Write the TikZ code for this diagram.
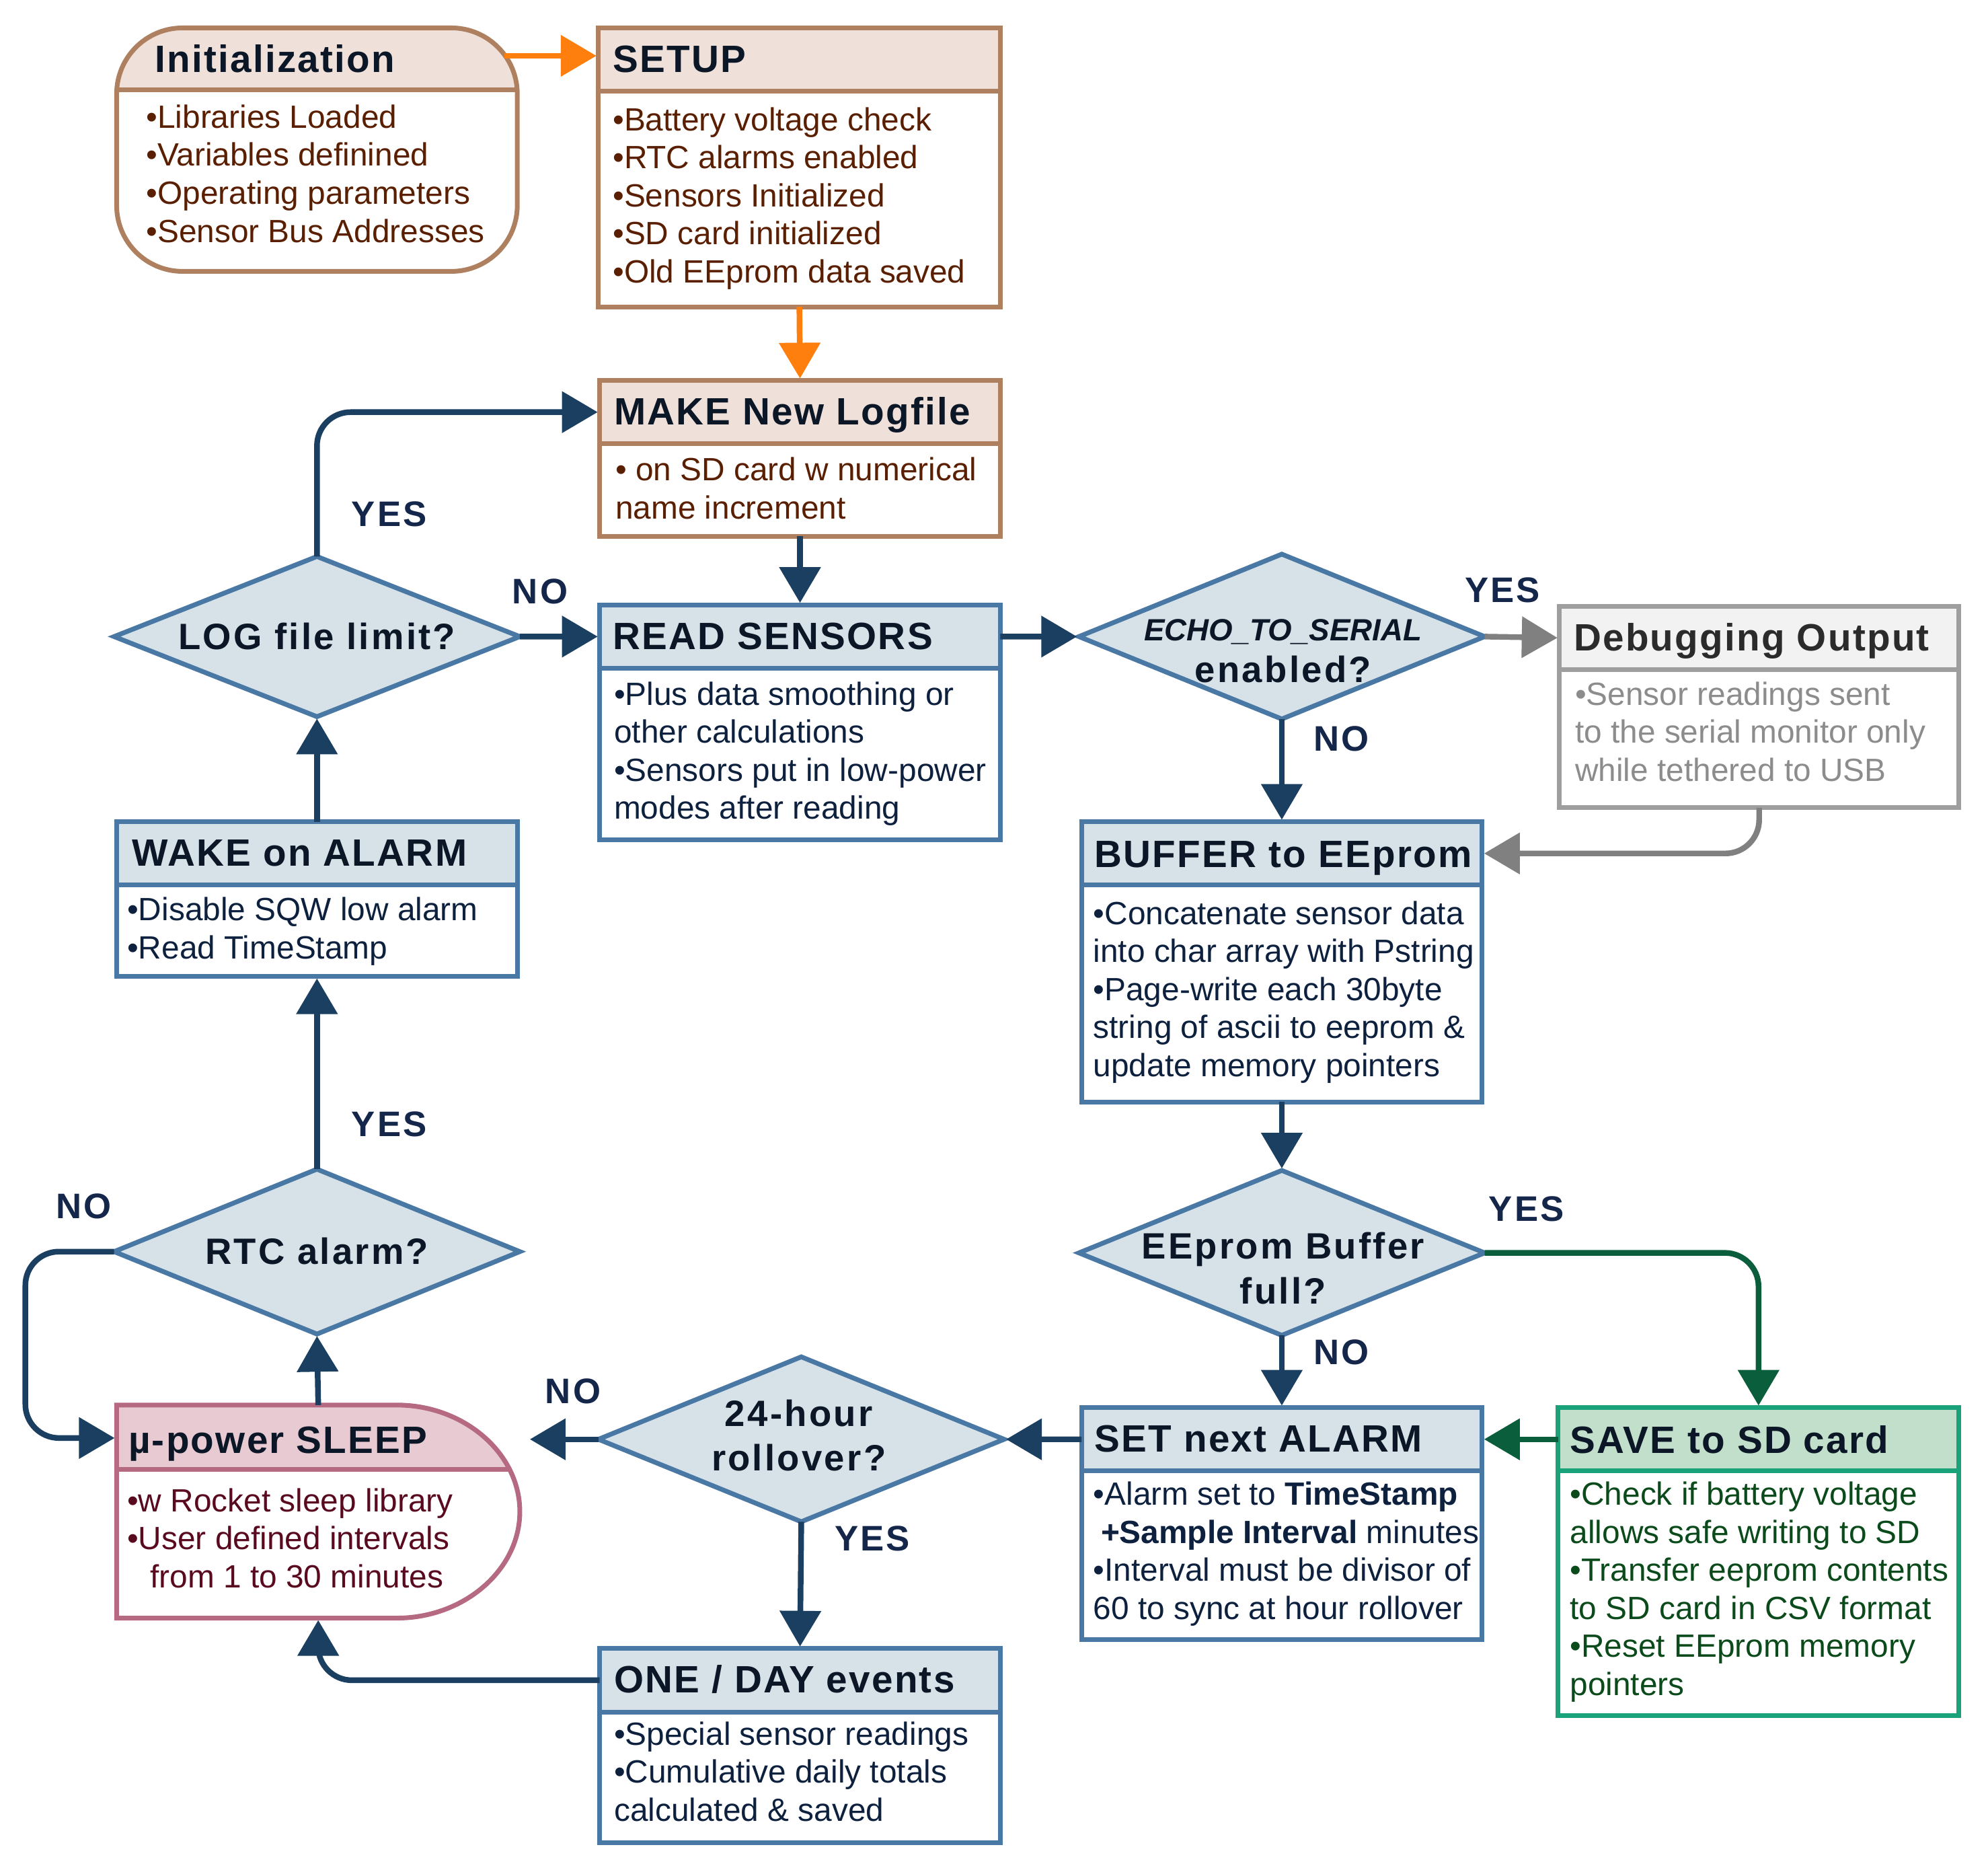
\documentclass[tikz,border=0pt]{standalone}
\usepackage{fontspec}
\setmainfont{Liberation Sans}
\newfontfamily\headsans[LetterSpace=4]{Liberation Sans}
\newfontfamily\labsans[LetterSpace=6]{Liberation Sans}
\usetikzlibrary{calc,fit,shapes.geometric,arrows.meta}
\definecolor{brownedge}{HTML}{AE8060}
\definecolor{brownfill}{HTML}{EFE0D9}
\definecolor{browntext}{HTML}{5A1E00}
\definecolor{blueedge}{HTML}{4978A4}
\definecolor{bluefill}{HTML}{D7E2E8}
\definecolor{bluetext}{HTML}{0D213F}
\definecolor{pinkedge}{HTML}{B56A82}
\definecolor{pinkfill}{HTML}{E8CAD2}
\definecolor{pinktext}{HTML}{5A0A1E}
\definecolor{greenedge}{HTML}{1AA37A}
\definecolor{greenfill}{HTML}{C2DFCB}
\definecolor{greentext}{HTML}{0B4A1A}
\definecolor{greyedge}{HTML}{9E9E9E}
\definecolor{greyfill}{HTML}{F2F2F2}
\definecolor{greytext}{HTML}{8C8C8C}
\definecolor{greyhead}{HTML}{2B2B2B}
\definecolor{headink}{HTML}{0B1626}
\definecolor{labink}{HTML}{14264A}
\definecolor{navy}{HTML}{1B3F61}
\definecolor{flowgreen}{HTML}{0B5E3B}
\definecolor{flowgrey}{HTML}{808080}
\definecolor{floworange}{HTML}{FF7F0E}
\tikzset{
  brownhead/.style={fill=brownfill},
  brownline/.style={draw=brownedge, line width=2pt},
  bluehead/.style={fill=bluefill},
  blueline/.style={draw=blueedge, line width=2pt},
  pinkhead/.style={fill=pinkfill},
  pinkline/.style={draw=pinkedge, line width=2pt},
  greenhead/.style={fill=greenfill},
  greenline/.style={draw=greenedge, line width=2pt},
  greyhead/.style={fill=greyfill},
  greyline/.style={draw=greyedge, line width=2pt},
  headtxt/.style={font=\headsans\bfseries\fontsize{16.1}{19}\selectfont, text=headink, anchor=base west, inner sep=0pt},
  % multi-line: base is the last line
  bodytxt/.style={font=\fontsize{13.6}{16.09}\selectfont, anchor=base west, inner sep=0pt, align=left},
  decide/.style={diamond, draw=blueedge, line width=2pt, fill=bluefill, inner sep=0pt, outer sep=0pt, minimum width=6.03cm, minimum height=2.45cm},
  dtxt/.style={font=\labsans\bfseries\fontsize{15.5}{18.8}\selectfont, text=headink, anchor=base, inner sep=0pt, align=center},
  lab/.style={font=\labsans\bfseries\fontsize{15}{18}\selectfont, text=labink, anchor=base, inner sep=0pt},
  arrowbase/.style={line width=2.4pt, -{Triangle[width=0.6cm,length=0.53cm]}, shorten >=0.03cm},
  flow/.style={arrowbase, draw=navy},
  flowgn/.style={arrowbase, draw=flowgreen},
  flowgr/.style={arrowbase, draw=flowgrey},
  flowor/.style={arrowbase, draw=floworange}
}
% box with a header band: name, colour, corners
\newcommand{\flowbox}[6]{%
  \coordinate (#1-nw) at (#3,#4);
  \coordinate (#1-se) at (#5,#6);
  \node[fit=(#1-nw)(#1-se), inner sep=0pt, outer sep=0pt, fill=white] (#1) {};
  \fill[#2head] (#1.north west) rectangle ($(#1.north east)+(0,50)$);
  \draw[#2line] ($(#1.north west)+(0,50)$) -- ($(#1.north east)+(0,50)$);
  \draw[#2line] (#1.north west) rectangle (#1.south east);
  \coordinate (#1-hw) at ($(#1.north west)+(0,25)$);
  \coordinate (#1-he) at ($(#1.north east)+(0,25)$);
}
\begin{document}
\begin{tikzpicture}[x=0.018852cm, y=-0.018852cm]
  \useasboundingbox[fill=white] (0,0) rectangle (1568,1477.3);

  % Initialization (rounded)
  \coordinate (init-nw) at (92,22);
  \coordinate (init-se) at (408,214);
  \node[fit=(init-nw)(init-se), inner sep=0pt, outer sep=0pt] (init) {};
  \fill[white, rounded corners=0.98cm] (init.north west) rectangle (init.south east);
  \begin{scope}
    \clip[rounded corners=0.98cm] (init.north west) rectangle (init.south east);
    \fill[brownhead] (init.north west) rectangle ($(init.north east)+(0,49)$);
    \draw[brownline] ($(init.north west)+(0,49)$) -- ($(init.north east)+(0,49)$);
  \end{scope}
  \draw[brownline, rounded corners=0.98cm] (init.north west) rectangle (init.south east);

  % u-power SLEEP (round right side)
  \coordinate (sleep-nw) at (92,1108);
  \coordinate (sleep-se) at (410,1276);
  \node[fit=(sleep-nw)(sleep-se), inner sep=0pt, outer sep=0pt] (sleep) {};
  \coordinate (sleep-hw) at ($(sleep.north west)+(0,26)$);
  \path[save path=\sleepoutline] (sleep.north west) -- (313,1108)
    .. controls (366,1108) and (410,1146) .. (410,1192)
    .. controls (410,1238) and (366,1276) .. (313,1276) -- (sleep.south west) -- cycle;
  \fill[white, use path=\sleepoutline];
  \begin{scope}
    \clip[use path=\sleepoutline];
    \fill[pinkhead] (sleep.north west) rectangle ($(sleep.north east)+(0,51)$);
    \draw[pinkline] ($(sleep.north west)+(0,51)$) -- ($(sleep.north east)+(0,51)$);
  \end{scope}
  \draw[pinkline, use path=\sleepoutline];

  % boxes
  \flowbox{setup}{brown}{472}{22}{789}{242}
  \flowbox{make}{brown}{473}{300}{789}{423}
  \flowbox{read}{blue}{473}{477}{789}{662}
  \flowbox{wake}{blue}{92}{648}{408}{770}
  \flowbox{buffer}{blue}{853}{648}{1169}{869}
  \flowbox{set}{blue}{853}{1110}{1169}{1293}
  \flowbox{oneday}{blue}{473}{1300}{789}{1453}
  \flowbox{save}{green}{1229}{1110}{1545}{1353}
  \flowbox{debug}{grey}{1230}{478}{1545}{637}

  % decisions
  \node[decide, minimum height=2.38cm] (log) at (250,502) {};
  \node[decide] (rtc) at (250,987) {};
  \node[decide] (echo) at (1011,502) {};
  \node[decide] (eeprom) at (1011,988) {};
  \node[decide] (day24) at (632,1135) {};

  % headers
  \node[headtxt] (init-t) at (122,57) {Initialization};
  \node[headtxt] (setup-t) at (483,57) {SETUP};
  \node[headtxt] (make-t) at (484,335) {MAKE New Logfile};
  \node[headtxt] (read-t) at (483,512) {READ SENSORS};
  \node[headtxt] (wake-t) at (104,683) {WAKE on ALARM};
  \node[headtxt] (buffer-t) at (863,684) {BUFFER to EEprom};
  \node[headtxt] (set-t) at (863,1145) {SET next ALARM};
  \node[headtxt] (save-t) at (1238,1146) {SAVE to SD card};
  \node[headtxt, text=greyhead] (debug-t) at (1241,513) {Debugging Output};
  \node[headtxt] (oneday-t) at (484,1335) {ONE / DAY events};
  \node[headtxt] (sleep-t) at (101,1146) {µ-power SLEEP};

  % bodies (placed at the baseline of their last line)
  \node[bodytxt, text=browntext] (init-b) at (115,191) {•Libraries Loaded\\•Variables definined\\•Operating parameters\\•Sensor Bus Addresses};
  \node[bodytxt, text=browntext] (setup-b) at (483,223) {•Battery voltage check\\•RTC alarms enabled\\•Sensors Initialized\\•SD card initialized\\•Old EEprom data saved};
  \node[bodytxt, text=browntext] (make-b) at (485,409) {• on SD card w numerical\\name increment};
  \node[bodytxt, text=bluetext] (read-b) at (484,646) {•Plus data smoothing or\\other calculations\\•Sensors put in low-power\\modes after reading};
  \node[bodytxt, text=bluetext] (wake-b) at (100,756) {•Disable SQW low alarm\\•Read TimeStamp};
  \node[bodytxt, text=bluetext] (buffer-b) at (862,849) {•Concatenate sensor data\\into char array with Pstring\\•Page-write each 30byte\\string of ascii to eeprom \&\\update memory pointers};
  \node[bodytxt, text=bluetext] (set-b) at (862,1277) {•Alarm set to \textbf{TimeStamp}\\\hspace*{3.2pt}\textbf{+Sample Interval} minutes\\•Interval must be divisor of\\60 to sync at hour rollover};
  \node[bodytxt, text=greentext] (save-b) at (1238,1337) {•Check if battery voltage\\allows safe writing to SD\\•Transfer eeprom contents\\to SD card in CSV format\\•Reset EEprom memory\\pointers};
  \node[bodytxt, text=greytext] (debug-b) at (1242,616) {•Sensor readings sent\\to the serial monitor only\\while tethered to USB};
  \node[bodytxt, text=bluetext] (oneday-b) at (484,1436) {•Special sensor readings\\•Cumulative daily totals\\calculated \& saved};
  \node[bodytxt, text=pinktext] (sleep-b) at (100,1252) {•w Rocket sleep library\\•User defined intervals\\\hspace*{9.7pt}from 1 to 30 minutes};

  % decision texts
  \node[dtxt] (log-t) at (250,512) {LOG file limit?};
  \node[dtxt] (rtc-t) at (250,997) {RTC alarm?};
  \node[dtxt, font=\bfseries\itshape\fontsize{13}{16}\selectfont] (echo-t1) at (1012,505) {ECHO\_TO\_SERIAL};
  \node[dtxt] (echo-t2) at (1012,538) {enabled?};
  \node[dtxt] (eeprom-t) at (1012,1028) {EEprom Buffer\\full?};
  \node[dtxt] (day24-t) at (630,1160) {24-hour\\rollover?};

  % connectors
  \draw[flowor] ($(init.north east)+(-10,22)$) -- ($(setup.north west)+(0,22)$);
  \draw[flowor] (setup.south) -- (make.north);
  \draw[flow] (make.south) -- (read.north);
  \draw[flow] (log.east) -- (read-hw);
  \draw[flow, rounded corners=0.5cm] (log.north) |- (make-hw);
  \draw[flow] (read-he) -- (echo.west);
  \draw[flowgr] (echo.east) -- (debug-hw);
  \draw[flow] (echo.south) -- (buffer.north);
  \draw[flowgr, rounded corners=0.5cm] (debug.south) |- (buffer-he);
  \draw[flow] (buffer.south) -- (eeprom.north);
  \draw[flow] (eeprom.south) -- (set.north);
  \draw[flowgn, rounded corners=0.5cm] (eeprom.east) -| (save.north);
  \draw[flowgn] (save-hw) -- (set-he);
  \draw[flow] (set-hw) -- (day24.east);
  \draw[flow, shorten >=0.15cm] (day24.west) -- (day24.west -| sleep.east);
  \draw[flow] (day24.south) -- (oneday.north);
  \draw[flow, rounded corners=0.5cm] (oneday-hw) -| (sleep.south);
  \draw[flow] (sleep.north) -- (rtc.south);
  \draw[flow] (rtc.north) -- (wake.south);
  \draw[flow, rounded corners=0.5cm] (rtc.west) -- ++(-70,0) |- (sleep-hw);
  \draw[flow] (wake.north) -- (log.south);

  % YES / NO
  \node[lab] (log-yes) at (307,415) {YES};
  \node[lab] (log-no) at (426,476) {NO};
  \node[lab] (echo-yes) at (1185,475) {YES};
  \node[lab] (echo-no) at (1058,592) {NO};
  \node[lab] (rtc-yes) at (307,896) {YES};
  \node[lab] (rtc-no) at (66,961) {NO};
  \node[lab] (eeprom-yes) at (1204,963) {YES};
  \node[lab] (eeprom-no) at (1058,1076) {NO};
  \node[lab] (day24-no) at (452,1107) {NO};
  \node[lab] (day24-yes) at (688,1223) {YES};
\end{tikzpicture}
\end{document}
